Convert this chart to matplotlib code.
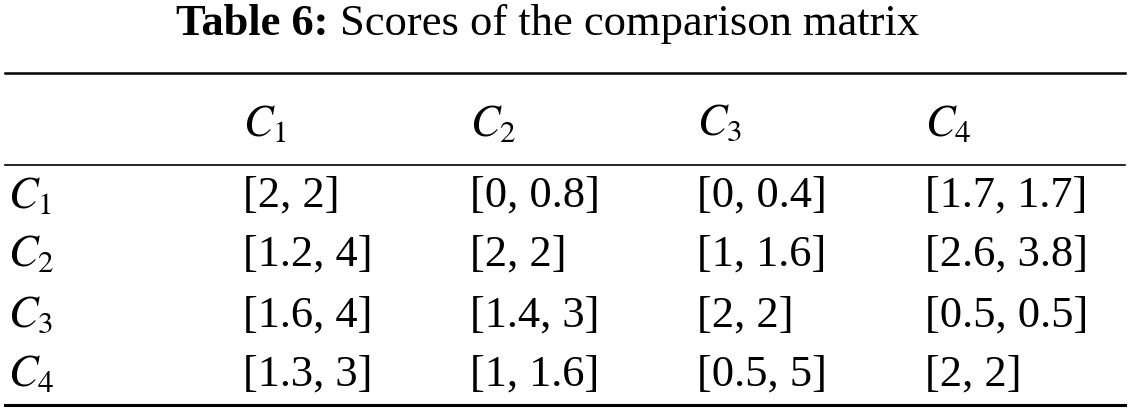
import matplotlib
matplotlib.use("Agg")
import matplotlib.pyplot as plt

plt.rcParams['font.family'] = ['Liberation Serif', 'DejaVu Serif']
plt.rcParams['mathtext.fontset'] = 'stix'

title_bold = 'Table 6:'
title_rest = 'Scores of the comparison matrix'
col_labels = [r'$C_1$', r'$C_2$', r'$C_3$', r'$C_4$']
row_labels = [r'$C_1$', r'$C_2$', r'$C_3$', r'$C_4$']
cells = [
    ['[2, 2]', '[0, 0.8]', '[0, 0.4]', '[1.7, 1.7]'],
    ['[1.2, 4]', '[2, 2]', '[1, 1.6]', '[2.6, 3.8]'],
    ['[1.6, 4]', '[1.4, 3]', '[2, 2]', '[0.5, 0.5]'],
    ['[1.3, 3]', '[1, 1.6]', '[0.5, 5]', '[2, 2]'],
]

W, H = 1129, 412
fig = plt.figure(figsize=(W / 100, H / 100), dpi=100)
ax = fig.add_axes([0, 0, 1, 1])
ax.set_xlim(0, W)
ax.set_ylim(H, 0)
ax.axis('off')

fs = 32
ax.text(328, 24, title_bold, fontsize=fs, fontweight='bold', ha='right', va='center')
ax.text(340, 24, title_rest, fontsize=fs, ha='left', va='center')

ax.plot([5, 1125], [73, 73], color='black', lw=1.8)
ax.plot([5, 1125], [165, 165], color='black', lw=1.2)
ax.plot([5, 1125], [405, 405], color='black', lw=2.2)

col_x = [243, 470, 697, 925]
row_y = [196, 255, 316, 375]
for x, lab in zip(col_x, col_labels):
    ax.text(x, 124, lab, fontsize=fs, ha='left', va='center')
for y, lab, row in zip(row_y, row_labels, cells):
    ax.text(8, y, lab, fontsize=fs, ha='left', va='center')
    for x, val in zip(col_x, row):
        ax.text(x, y, val, fontsize=fs, ha='left', va='center')

fig.savefig('out.png', dpi=100)
